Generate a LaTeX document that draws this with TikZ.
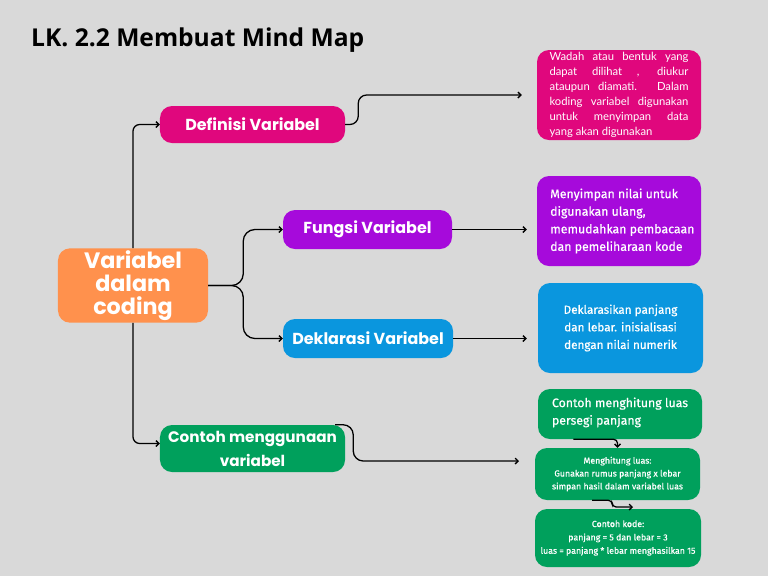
\documentclass[tikz,border=0pt]{standalone}
\usepackage{fontspec}
\setmainfont{Poppins}
\newfontfamily\titlefont{Open Sans}
\newfontfamily\notefont{Lato}
\newfontfamily\notemed{Fira Sans}[FakeBold=0.6]
\usetikzlibrary{arrows.meta, positioning, calc}
\definecolor{bgfill}{HTML}{D9D9D9}
\definecolor{corefill}{HTML}{FF914D}
\definecolor{deffill}{HTML}{E0077D}
\definecolor{funfill}{HTML}{A60ADB}
\definecolor{dekfill}{HTML}{0A96DE}
\definecolor{exfill}{HTML}{00A05C}
\tikzset{
  blk/.style={rectangle, rounded corners=0.36cm, text=white, align=center, inner sep=2pt},
  core/.style={blk, fill=corefill, minimum width=4.5cm, minimum height=2.19cm, font=\fontsize{19}{19.5}\selectfont\bfseries},
  topic/.style={blk, minimum height=1.11cm, font=\fontsize{13.6}{20.5}\selectfont\bfseries},
  note/.style={blk, minimum width=4.92cm, minimum height=2.7cm, font=\notemed\fontsize{10.5}{15}\selectfont},
  exbox/.style={blk, fill=exfill, minimum width=4.95cm},
  conn/.style={-{Straight Barb[length=2.5pt, width=5pt]}, line width=1.1pt, black},
}
\begin{document}
\begin{tikzpicture}[x=0.03cm, y=-0.03cm]
  \useasboundingbox[fill=bgfill] (0,0) rectangle (768,576);
  \node[anchor=west, font=\titlefont\fontsize{21}{24}\selectfont\bfseries] (title) at (27,40) {LK. 2.2 Membuat Mind Map};

  % main topic and branches
  \node[core] (core) at (133,285.5) {Variabel\\dalam\\coding};
  \node[topic, fill=deffill, minimum width=5.55cm] (defn) at (252.5,124.5) {Definisi Variabel};
  \node[topic, fill=funfill, minimum width=5.07cm, minimum height=1.17cm] (fung) at (367.5,229.5) {Fungsi Variabel};
  \node[topic, fill=dekfill, minimum width=5.1cm, minimum height=1.17cm] (dekl) at (368,338.5) {Deklarasi Variabel};
  \node[topic, fill=exfill, minimum width=5.55cm, minimum height=1.41cm, inner xsep=0pt, font=\fontsize{13}{20.5}\selectfont\bfseries] (contoh) at (252.5,448.5) {Contoh menggunaan\\variabel};

  % notes
  \node[note, fill=deffill, font=\notefont\fontsize{9.6}{12.8}\selectfont, align=left] (defnote) at (619,95) {%
    \makebox[4.17cm][s]{Wadah atau bentuk yang}\\
    \makebox[4.17cm][s]{dapat dilihat , diukur}\\
    \makebox[4.17cm][s]{ataupun diamati. Dalam}\\
    \makebox[4.17cm][s]{koding variabel digunakan}\\
    \makebox[4.17cm][s]{untuk menyimpan data}\\
    \makebox[4.17cm][l]{yang akan digunakan}};
  \node[note, fill=funfill, align=left, inner xsep=4pt] (fungnote) at (619,221) {\hspace*{0.2cm}Menyimpan nilai untuk\\\hspace*{0.2cm}digunakan ulang,\\\hspace*{0.2cm}memudahkan pembacaan\\\hspace*{0.2cm}dan pemeliharaan kode};
  \node[note, fill=dekfill, minimum width=4.95cm, font=\notemed\fontsize{10}{15}\selectfont] (deknote) at (620.5,328) {Deklarasikan panjang\\dan lebar. inisialisasi\\dengan nilai numerik};
  \node[exbox, minimum width=4.92cm, minimum height=1.5cm, align=left, font=\notemed\fontsize{10.5}{15}\selectfont] (ex1) at (620,414) {\raisebox{5pt}{Contoh menghitung luas}\\\raisebox{5pt}{persegi panjang}};
  \node[exbox, minimum height=1.56cm, font=\notemed\fontsize{7.5}{11}\selectfont] (ex2) at (617.5,474) {Menghitung luas:\\Gunakan rumus panjang x lebar\\simpan hasil dalam variabel luas};
  \node[exbox, minimum width=4.98cm, minimum height=1.74cm, font=\notemed\fontsize{7.5}{11.4}\selectfont] (ex3) at (618,538) {Contoh kode:\\panjang = 5 dan lebar = 3\\luas = panjang * lebar menghasilkan 15};

  \coordinate (exin) at (519,461);
  \coordinate (ex3in) at (633,507);

  % connectors
  \draw[conn, rounded corners=0.2cm] (core.north) |- (defn.west);
  \draw[conn, rounded corners=0.2cm] (core.south) |- ([yshift=0.15cm]contoh.west);
  \draw[conn, rounded corners=0.35cm] (core.east) -- ++(35,0) |- (fung.west);
  \draw[conn, rounded corners=0.35cm] (core.east) -- ++(35,0) |- (dekl.west);
  \draw[conn, rounded corners=0.25cm, shorten >=0.45cm] (defn.east) -- ++(13,0) |- (defnote.west);
  \draw[conn, shorten >=0.3cm] (fung.east) -- (fung.east -| fungnote.west);
  \draw[conn, shorten >=0.33cm] (dekl.east) -- (dekl.east -| deknote.west);
  \draw[conn, rounded corners=0.3cm] ([xshift=-0.3cm]contoh.north east) -- ++(18,0) |- (exin);
  \draw[conn, rounded corners=0.12cm] ([xshift=-1.4cm]ex1.south) -| (ex2.north);
  \draw[conn, rounded corners=0.12cm] ([xshift=-0.76cm]ex2.south) -- ++(20,0) |- (ex3in);
\end{tikzpicture}
\end{document}
